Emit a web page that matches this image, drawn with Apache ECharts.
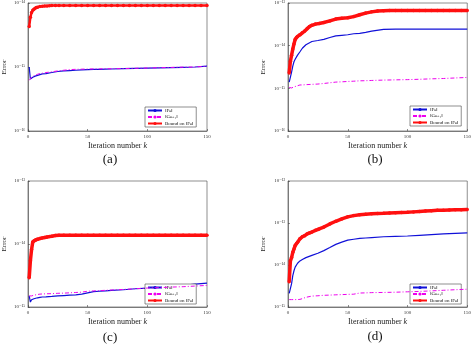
<!DOCTYPE html>
<html><head><meta charset="utf-8">
<script src="https://cdn.jsdelivr.net/npm/echarts@6/dist/echarts.min.js"></script>
<style>html,body{margin:0;padding:0;background:#fff}#c{width:474px;height:345px}</style>
</head><body><div id="c"></div>
<script>
// iteration samples
const kRed = [1,2,3,4,5,6,7,8,10,12,14,16,18,20,23,26,30,35,40,45,50,55,60,65,70,75,80,85,90,95,100,105,110,115,120,125,130,135,140,145,150];
const kLine = [1,2,3,4,5,6,8,10,12,15,20,25,30,35,40,45,50,55,60,65,70,80,90,100,110,120,130,140,150];
const xTicks = [0,50,100,150];
const seriesNames = ['\u2016F\u2096\u2016','\u2016G\u2096\u208A\u2081\u2016','Bound on \u2016F\u2096\u2016'];
const captions = ['(a)','(b)','(c)','(d)'];
const yMin = [1e-16, 1e-16, 1e-15, 1e-15];
const yMax = [1e-14, 1e-13, 1e-13, 1e-12];

// panel (a)
const redA = [4.3e-15,6.0e-15,7.1e-15,7.7e-15,8.0e-15,8.3e-15,8.5e-15,8.6e-15,8.8e-15,8.9e-15,9.0e-15,9.0e-15,9.05e-15,9.1e-15,9.1e-15,9.1e-15,9.1e-15,9.1e-15,9.1e-15,9.1e-15,9.1e-15,9.1e-15,9.1e-15,9.1e-15,9.1e-15,9.1e-15,9.1e-15,9.1e-15,9.1e-15,9.1e-15,9.1e-15,9.1e-15,9.1e-15,9.1e-15,9.1e-15,9.1e-15,9.12e-15,9.12e-15,9.14e-15,9.15e-15,9.15e-15];
const blueA = [1.0e-15,6.5e-16,6.7e-16,6.9e-16,7.0e-16,7.2e-16,7.4e-16,7.6e-16,7.8e-16,7.9e-16,8.2e-16,8.5e-16,8.7e-16,8.8e-16,8.9e-16,9.0e-16,9.1e-16,9.15e-16,9.2e-16,9.25e-16,9.3e-16,9.4e-16,9.5e-16,9.6e-16,9.7e-16,9.8e-16,9.9e-16,1.0e-15,1.03e-15];
const magA = [6.2e-16,6.6e-16,6.9e-16,7.1e-16,7.3e-16,7.5e-16,7.7e-16,7.9e-16,8.0e-16,8.2e-16,8.4e-16,8.7e-16,8.9e-16,9.1e-16,9.2e-16,9.25e-16,9.3e-16,9.32e-16,9.35e-16,9.38e-16,9.4e-16,9.45e-16,9.55e-16,9.65e-16,9.75e-16,9.85e-16,9.95e-16,1.0e-15,1.03e-15];
// panel (b)
const redB = [2.3e-15,4.3e-15,6.0e-15,8.3e-15,1.1e-14,1.4e-14,1.55e-14,1.65e-14,1.8e-14,2.0e-14,2.2e-14,2.5e-14,2.8e-14,3.0e-14,3.2e-14,3.3e-14,3.5e-14,3.8e-14,4.2e-14,4.4e-14,4.5e-14,4.8e-14,5.3e-14,5.8e-14,6.2e-14,6.5e-14,6.6e-14,6.7e-14,6.7e-14,6.7e-14,6.7e-14,6.7e-14,6.7e-14,6.7e-14,6.7e-14,6.7e-14,6.7e-14,6.7e-14,6.7e-14,6.7e-14,6.7e-14];
const blueB = [1.4e-15,1.55e-15,2.4e-15,3.3e-15,4.2e-15,4.8e-15,6.0e-15,7.2e-15,8.7e-15,1.05e-14,1.25e-14,1.32e-14,1.4e-14,1.55e-14,1.7e-14,1.75e-14,1.8e-14,1.9e-14,1.95e-14,2.05e-14,2.2e-14,2.4e-14,2.45e-14,2.45e-14,2.45e-14,2.45e-14,2.45e-14,2.45e-14,2.45e-14];
const magB = [1.05e-15,1.0e-15,1.02e-15,1.05e-15,1.08e-15,1.1e-15,1.15e-15,1.2e-15,1.2e-15,1.22e-15,1.24e-15,1.26e-15,1.3e-15,1.35e-15,1.4e-15,1.42e-15,1.45e-15,1.47e-15,1.5e-15,1.51e-15,1.53e-15,1.56e-15,1.58e-15,1.6e-15,1.63e-15,1.67e-15,1.7e-15,1.75e-15,1.8e-15];
// panel (c)
const redC = [2.9e-15,5.4e-15,8.2e-15,1.08e-14,1.12e-14,1.15e-14,1.17e-14,1.19e-14,1.22e-14,1.25e-14,1.27e-14,1.29e-14,1.31e-14,1.33e-14,1.36e-14,1.38e-14,1.38e-14,1.38e-14,1.38e-14,1.38e-14,1.38e-14,1.38e-14,1.38e-14,1.38e-14,1.38e-14,1.38e-14,1.38e-14,1.38e-14,1.38e-14,1.38e-14,1.38e-14,1.38e-14,1.38e-14,1.38e-14,1.38e-14,1.38e-14,1.38e-14,1.38e-14,1.38e-14,1.38e-14,1.38e-14];
const blueC = [1.5e-15,1.2e-15,1.3e-15,1.33e-15,1.35e-15,1.37e-15,1.4e-15,1.42e-15,1.44e-15,1.45e-15,1.47e-15,1.5e-15,1.52e-15,1.54e-15,1.56e-15,1.6e-15,1.68e-15,1.75e-15,1.78e-15,1.8e-15,1.83e-15,1.88e-15,1.95e-15,2.0e-15,2.05e-15,2.1e-15,2.2e-15,2.3e-15,2.4e-15];
const magC = [1.5e-15,1.45e-15,1.5e-15,1.52e-15,1.54e-15,1.56e-15,1.58e-15,1.6e-15,1.61e-15,1.62e-15,1.63e-15,1.65e-15,1.66e-15,1.68e-15,1.7e-15,1.72e-15,1.78e-15,1.8e-15,1.82e-15,1.84e-15,1.86e-15,1.9e-15,1.95e-15,2.0e-15,2.03e-15,2.07e-15,2.1e-15,2.15e-15,2.2e-15];
// panel (d)
const redD = [4.0e-15,1.25e-14,1.5e-14,2.0e-14,2.4e-14,2.9e-14,3.2e-14,3.5e-14,4.2e-14,4.7e-14,5.0e-14,5.5e-14,5.8e-14,6.1e-14,6.7e-14,7.2e-14,8.0e-14,9.5e-14,1.1e-13,1.25e-13,1.4e-13,1.5e-13,1.58e-13,1.62e-13,1.65e-13,1.68e-13,1.7e-13,1.73e-13,1.76e-13,1.78e-13,1.8e-13,1.84e-13,1.88e-13,1.92e-13,1.96e-13,2.0e-13,2.02e-13,2.04e-13,2.06e-13,2.08e-13,2.1e-13];
const blueD = [2.1e-15,2.3e-15,3.6e-15,5.6e-15,7.3e-15,8.9e-15,1.1e-14,1.25e-14,1.35e-14,1.5e-14,1.7e-14,1.9e-14,2.2e-14,2.6e-14,3.1e-14,3.5e-14,3.9e-14,4.1e-14,4.3e-14,4.4e-14,4.5e-14,4.7e-14,4.8e-14,4.9e-14,5.1e-14,5.3e-14,5.5e-14,5.65e-14,5.8e-14];
const magD = [1.5e-15,1.5e-15,1.5e-15,1.5e-15,1.5e-15,1.5e-15,1.5e-15,1.52e-15,1.58e-15,1.7e-15,1.82e-15,1.85e-15,1.9e-15,1.92e-15,1.95e-15,1.97e-15,2.0e-15,2.02e-15,2.15e-15,2.17e-15,2.2e-15,2.22e-15,2.25e-15,2.3e-15,2.35e-15,2.42e-15,2.5e-15,2.58e-15,2.65e-15];

const panels = [
  {red: redA, blue: blueA, mag: magA},
  {red: redB, blue: blueB, mag: magB},
  {red: redC, blue: blueC, mag: magC},
  {red: redD, blue: blueD, mag: magD}
];
const rects = [
  {left: 24, top: 3, width: 183, height: 128},
  {left: 288, top: 3, width: 182, height: 128},
  {left: 24, top: 181, width: 183, height: 126},
  {left: 288, top: 181, width: 182, height: 126}
];
const legendPos = [
  {left: 145, top: 107}, {left: 410, top: 106}, {left: 145, top: 284}, {left: 410, top: 284}
];
const capPos = [[110,160],[375,160],[110,338],[375,337]];

const SERIF = '"Liberation Serif","DejaVu Serif",serif';
const sup = {'-':'\u207B','0':'\u2070','1':'\u00B9','2':'\u00B2','3':'\u00B3','4':'\u2074','5':'\u2075','6':'\u2076','7':'\u2077','8':'\u2078','9':'\u2079'};
function expLabel(v){
  const e = Math.round(Math.log10(v));
  return '10' + String(e).split('').map(c => sup[c]).join('');
}
const zip = (ks, vs) => ks.map((k,i) => [k, vs[i]]);

const option = {
  animation: false,
  backgroundColor: '#fff',
  grid: rects.map(r => Object.assign({show: true, borderColor: '#444', borderWidth: 0.6, backgroundColor: '#fff'}, r)),
  xAxis: rects.map((r,i) => ({
    gridIndex: i, type: 'value', min: 0, max: 150, interval: 50,
    name: 'Iteration number {i|k}', nameLocation: 'middle', nameGap: 11,
    nameTextStyle: {fontFamily: SERIF, fontSize: 8, color: '#222', rich: {i: {fontFamily: SERIF, fontStyle: 'italic', fontSize: 8, color: '#222'}}},
    axisLine: {show: true, lineStyle: {color: '#444', width: 0.6}},
    axisTick: {show: true, inside: true, length: 2, lineStyle: {color: '#444', width: 0.6}},
    axisLabel: {fontSize: 5, color: '#333', margin: 3, fontFamily: SERIF, formatter: v => xTicks.indexOf(v) >= 0 ? String(v) : ''},
    splitLine: {show: false}
  })),
  yAxis: rects.map((r,i) => ({
    gridIndex: i, type: 'log', logBase: 10, min: yMin[i], max: yMax[i],
    name: 'Error', nameLocation: 'middle', nameGap: i % 2 === 0 ? 20 : 21, nameRotate: 90,
    nameTextStyle: {fontFamily: SERIF, fontSize: 7, color: '#222'},
    axisLine: {show: true, lineStyle: {color: '#444', width: 0.6}},
    axisTick: {show: true, inside: true, length: 2, lineStyle: {color: '#444', width: 0.6}},
    axisLabel: {fontSize: 5, color: '#333', margin: 3, fontFamily: SERIF, formatter: expLabel},
    splitLine: {show: false}
  })),
  legend: legendPos.map(p => ({
    left: p.left, top: p.top, orient: 'vertical', data: seriesNames,
    backgroundColor: '#fff', borderColor: '#444', borderWidth: 0.6, borderRadius: 0,
    padding: [1, 3, 1, 2], itemWidth: 14, itemHeight: 4, itemGap: 1.5,
    textStyle: {fontSize: 5, fontFamily: SERIF, color: '#111', padding: [0,0,0,-2]}
  })),
  series: [],
  graphic: captions.map((c,i) => ({
    type: 'text', x: capPos[i][0], y: capPos[i][1],
    style: {text: c, font: '13px ' + SERIF, fill: '#111', textAlign: 'center', textVerticalAlign: 'middle'}
  }))
};

panels.forEach((p, i) => {
  option.series.push({
    name: seriesNames[0], type: 'line', xAxisIndex: i, yAxisIndex: i,
    data: zip(kLine, p.blue), symbol: 'none', smooth: false,
    lineStyle: {color: '#1010d8', width: 1.2}, itemStyle: {color: '#1010d8'}, z: 3
  });
  option.series.push({
    name: seriesNames[1], type: 'line', xAxisIndex: i, yAxisIndex: i,
    data: zip(kLine, p.mag), symbol: 'none',
    lineStyle: {color: '#ee00ee', width: 1, type: [4, 2, 1, 2]}, itemStyle: {color: '#ee00ee'}, z: 4
  });
  option.series.push({
    name: seriesNames[2], type: 'line', xAxisIndex: i, yAxisIndex: i,
    data: zip(kRed, p.red), symbol: 'circle', symbolSize: 3.5, showAllSymbol: true,
    lineStyle: {color: '#ff1010', width: i === 0 ? 2.5 : 3.5}, itemStyle: {color: '#ff1010'}, z: 5
  });
});

const chart = echarts.init(document.getElementById('c'), null, {renderer: 'canvas'});
chart.setOption(option);
</script>
</body></html>
